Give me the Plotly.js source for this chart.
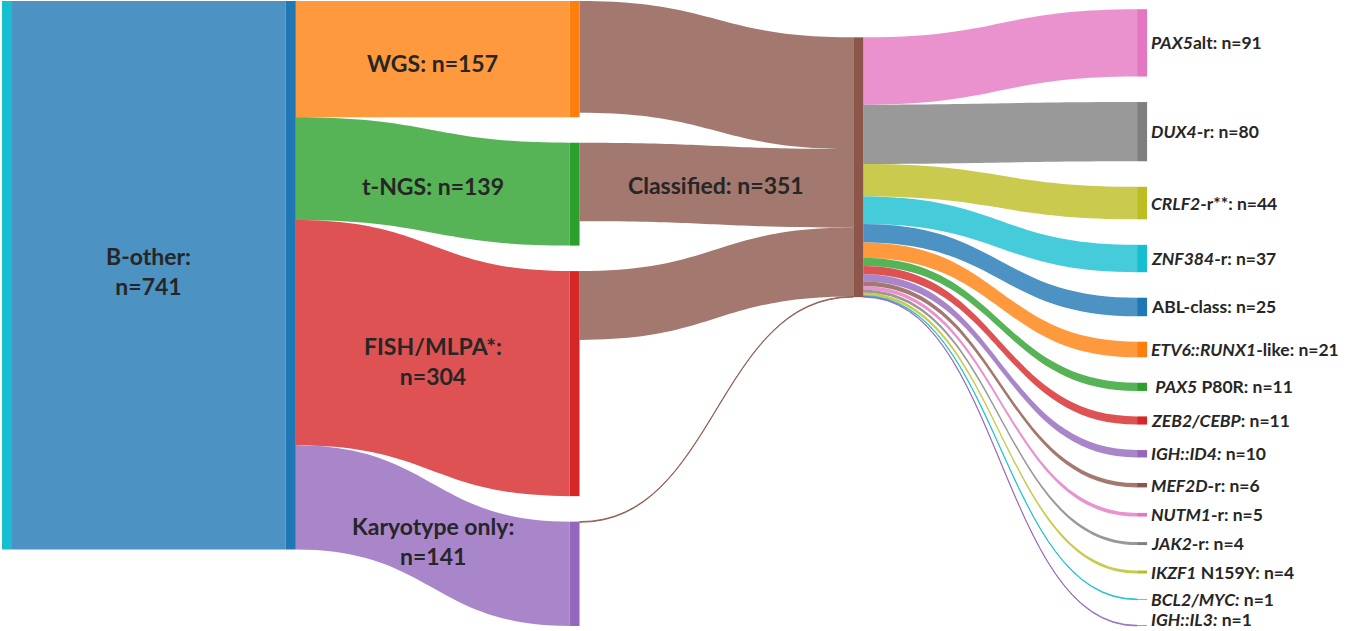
<!DOCTYPE html>
<html><head><meta charset="utf-8">
<script src="https://cdn.plot.ly/plotly-3.0.1.min.js"></script>
<style>html,body{margin:0;padding:0;background:#fff}#chart{width:1346px;height:631px}</style>
</head><body><div id="chart"></div>
<script>
// ---- data ----
const rootName = 'B-other';
const rootTotal = 741;
const methodNames = ['WGS', 't-NGS', 'FISH/MLPA*', 'Karyotype only'];
const methodLabels = ['WGS: n=', 't-NGS: n=', 'FISH/MLPA*:<br>n=', 'Karyotype only:<br>n='];
const methodTotals = [157, 139, 304, 141];
const methodClassified = [151, 106, 93, 1];
const classifiedName = 'Classified';
const classifiedTotal = 351;
const subtypeNames = ['PAX5alt', 'DUX4-r', 'CRLF2-r**', 'ZNF384-r', 'ABL-class', 'ETV6::RUNX1-like', 'PAX5 P80R', 'ZEB2/CEBP', 'IGH::ID4', 'MEF2D-r', 'NUTM1-r', 'JAK2-r', 'IKZF1 N159Y', 'BCL2/MYC', 'IGH::IL3'];
const subtypeStems = ['<i>PAX5</i>alt:', '<i>DUX4</i>-r:', '<i>CRLF2</i>-r**:', '<i>ZNF384</i>-r:', 'ABL-class:', '<i>ETV6::RUNX1</i>-like:', ' <i>PAX5</i> P80R:', '<i>ZEB2/CEBP</i>:', '<i>IGH::ID4:</i>', '<i>MEF2D</i>-r:', '<i>NUTM1</i>-r:', '<i>JAK2</i>-r:', '<i>IKZF1</i> N159Y:', '<i>BCL2/MYC:</i>', '<i>IGH::IL3:</i>'];
const subtypeCounts = [91, 80, 44, 37, 25, 21, 11, 11, 10, 6, 5, 4, 4, 1, 1];

// ---- styles / layout settings ----
const rootColors = ['#17becf', '#1f77b4'];
const methodColors = ['#ff7f0e', '#2ca02c', '#d62728', '#9467bd'];
const classifiedColor = '#8c564b';
const subtypeColors = ['#e377c2', '#7f7f7f', '#bcbd22', '#17becf', '#1f77b4', '#ff7f0e', '#2ca02c', '#d62728', '#9467bd', '#8c564b', '#e377c2', '#7f7f7f', '#bcbd22', '#17becf', '#9467bd'];
const textColor = '#262626';
const fontFam = 'Lato, "Open Sans", sans-serif';
const FIG_W = 1346, FIG_H = 631;
const MARGIN = {l: 2, r: 0, t: 1, b: 5};
const DOMAIN_X = [0, 0.852];
const NODE_PAD = 25.5, NODE_TH = 10, N_COLS = 5;
const CLASSIFIED_CENTER = 0.266;   // vertical centre of the "Classified" node (fraction of height)
const bigDy = [-4, 4, 5, 3, 5, 0];  // label nudges (px) for left-hand labels

function rgba(h, a) { const n = parseInt(h.slice(1), 16); return `rgba(${(n >> 16) & 255},${(n >> 8) & 255},${n & 255},${a})`; }

// ---- build sankey ----
const names = [rootName, rootName].concat(methodNames, [classifiedName], subtypeNames);
const colors = rootColors.concat(methodColors, [classifiedColor], subtypeColors);
const iMethod0 = 2, iClass = 2 + methodNames.length, iSub0 = iClass + 1;
const src = [], tgt = [], val = [], lcol = [];
src.push(0); tgt.push(1); val.push(rootTotal); lcol.push(rgba(colors[1], 0.8));
methodTotals.forEach((v, i) => { src.push(1); tgt.push(iMethod0 + i); val.push(v); lcol.push(rgba(colors[iMethod0 + i], 0.8)); });
methodClassified.forEach((v, i) => { src.push(iMethod0 + i); tgt.push(iClass); val.push(v); lcol.push(rgba(classifiedColor, 0.8)); });
subtypeCounts.forEach((v, i) => { src.push(iClass); tgt.push(iSub0 + i); val.push(v); lcol.push(rgba(colors[iSub0 + i], 0.8)); });

// fixed positions for the method column (stacked in data order) and the Classified node
const domW = (FIG_W - MARGIN.l - MARGIN.r) * (DOMAIN_X[1] - DOMAIN_X[0]);
const domH = FIG_H - MARGIN.t - MARGIN.b;
const ky = (domH - (methodTotals.length - 1) * NODE_PAD) / rootTotal;
const colX = c => (c * (domW - NODE_TH) / (N_COLS - 1) + NODE_TH / 2) / domW;
const nx = names.map(() => null), ny = names.map(() => null);
let accY = 0;
methodTotals.forEach((v, i) => {
  const h = v * ky;
  nx[iMethod0 + i] = colX(2);
  ny[iMethod0 + i] = (accY + h / 2) / domH;
  accY += h + NODE_PAD;
});
nx[iClass] = colX(3); ny[iClass] = CLASSIFIED_CENTER;

const trace = {
  type: 'sankey',
  orientation: 'h',
  arrangement: 'fixed',
  domain: {x: DOMAIN_X, y: [0, 1]},
  node: {
    label: names.map(() => ''),
    customdata: names,
    hovertemplate: '%{customdata}: %{value}<extra></extra>',
    color: colors,
    thickness: NODE_TH,
    pad: NODE_PAD,
    x: nx, y: ny,
    line: {width: 0}
  },
  link: {source: src, target: tgt, value: val, color: lcol, hoverinfo: 'none'}
};
const layout = {
  width: FIG_W, height: FIG_H,
  margin: MARGIN,
  paper_bgcolor: '#fff',
  font: {family: fontFam, color: textColor},
  showlegend: false
};
const gd = document.getElementById('chart');
Plotly.newPlot(gd, [trace], layout, {displayModeBar: false}).then(placeLabels);

function placeLabels() {
  const sz = gd._fullLayout._size;
  const gdr = gd.getBoundingClientRect();
  const nodes = [], links = [];
  let offX = null, offY = null;
  gd.querySelectorAll('.sankey-node').forEach(el => {
    const n = el.__data__.node;
    const k = (n.pointNumber !== undefined) ? n.pointNumber : n.index;
    nodes[k] = n;
    if (offX === null) {
      const r = (el.querySelector('.node-rect') || el).getBoundingClientRect();
      offX = r.left - gdr.left - n.x0; offY = r.top - gdr.top - n.y0;
    }
  });
  gd.querySelectorAll('.sankey-link').forEach(el => {
    const l = el.__data__.link;
    const k = (l.pointNumber !== undefined) ? l.pointNumber : l.index;
    links[k] = l;
  });
  const px = x => (x + offX - sz.l) / sz.w;
  const py = y => 1 - (y + offY - sz.t) / sz.h;
  const ann = [];
  const big = {family: fontFam, size: 23, color: textColor, weight: 700};
  const small = {family: fontFam, size: 17.5, color: textColor, weight: 700};
  function linkMid(li, text, dy) {
    const l = links[li];
    const x = (l.source.x1 + l.target.x0) / 2;
    const y = (l.y0 + l.y1) / 2 + dy;
    ann.push({xref: 'paper', yref: 'paper', x: px(x), y: py(y), text: text, showarrow: false, xanchor: 'center', yanchor: 'middle', font: big});
  }
  linkMid(0, rootName + ':<br>n=' + rootTotal, bigDy[0]);
  methodLabels.forEach((t, i) => linkMid(1 + i, t + methodTotals[i], bigDy[1 + i]));
  linkMid(1 + methodNames.length + 1, classifiedName + ': n=' + classifiedTotal, bigDy[5]);
  const maxY = FIG_H - 12 - offY;
  subtypeStems.forEach((s, i) => {
    const n = nodes[iSub0 + i];
    const yc = Math.min((n.y0 + n.y1) / 2, maxY);
    ann.push({xref: 'paper', yref: 'paper', x: px(n.x1 + 2), y: py(yc), text: s + ' n=' + subtypeCounts[i], showarrow: false, xanchor: 'left', yanchor: 'middle', font: small});
  });
  Plotly.relayout(gd, {annotations: ann});
}
</script>
</body></html>
